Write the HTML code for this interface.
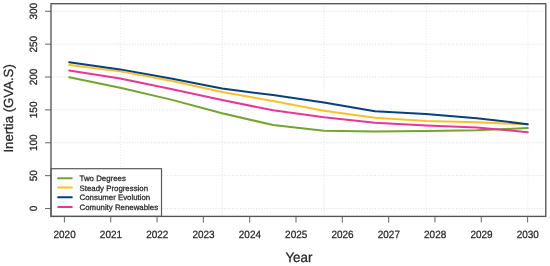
<!DOCTYPE html><html><head><meta charset="utf-8"><style>html,body{margin:0;padding:0;background:#fff;}svg{display:block;}text{font-family:"Liberation Sans",Arial,sans-serif;fill:#262626;stroke:#262626;stroke-width:0.25;text-rendering:geometricPrecision;}</style></head><body>
<svg width="550" height="266" viewBox="0 0 550 266">
<rect width="550" height="266" fill="#fff"/>
<g stroke="#dcdcdc" stroke-width="1" stroke-dasharray="1 1.7"><line x1="51.0" y1="208.50" x2="545.8" y2="208.50"/><line x1="51.0" y1="175.63" x2="545.8" y2="175.63"/><line x1="51.0" y1="142.76" x2="545.8" y2="142.76"/><line x1="51.0" y1="109.89" x2="545.8" y2="109.89"/><line x1="51.0" y1="77.02" x2="545.8" y2="77.02"/><line x1="51.0" y1="44.15" x2="545.8" y2="44.15"/><line x1="51.0" y1="11.28" x2="545.8" y2="11.28"/></g>
<g stroke="#e4e4e4" stroke-width="1" stroke-dasharray="1 1.7"><line x1="120.35" y1="3.7" x2="120.35" y2="216.4"/><line x1="222.25" y1="3.7" x2="222.25" y2="216.4"/><line x1="324.15" y1="3.7" x2="324.15" y2="216.4"/><line x1="426.05" y1="3.7" x2="426.05" y2="216.4"/><line x1="527.95" y1="3.7" x2="527.95" y2="216.4"/></g>
<polyline points="69.20,77.15 120.15,87.74 171.10,99.63 222.05,113.18 273.00,125.08 323.95,130.66 374.90,131.39 425.85,131.12 476.80,130.20 527.75,128.10" fill="none" stroke="#72a52e" stroke-width="2" stroke-linejoin="round" stroke-linecap="round"/>
<polyline points="69.20,65.06 120.15,71.37 171.10,80.77 222.05,92.01 273.00,101.02 323.95,110.68 374.90,117.65 425.85,121.00 476.80,122.18 527.75,124.48" fill="none" stroke="#fec125" stroke-width="2" stroke-linejoin="round" stroke-linecap="round"/>
<polyline points="69.20,62.29 120.15,69.39 171.10,78.40 222.05,88.52 273.00,95.10 323.95,102.59 374.90,111.34 425.85,113.97 476.80,118.17 527.75,124.22" fill="none" stroke="#083f7e" stroke-width="2" stroke-linejoin="round" stroke-linecap="round"/>
<polyline points="69.20,70.58 120.15,78.60 171.10,88.98 222.05,99.90 273.00,110.35 323.95,117.19 374.90,122.71 425.85,125.60 476.80,127.38 527.75,132.18" fill="none" stroke="#e8359a" stroke-width="2" stroke-linejoin="round" stroke-linecap="round"/>
<g stroke="#6a6a6a" stroke-width="1.05"><line x1="45" y1="208.50" x2="51.0" y2="208.50"/><line x1="45" y1="175.63" x2="51.0" y2="175.63"/><line x1="45" y1="142.76" x2="51.0" y2="142.76"/><line x1="45" y1="109.89" x2="51.0" y2="109.89"/><line x1="45" y1="77.02" x2="51.0" y2="77.02"/><line x1="45" y1="44.15" x2="51.0" y2="44.15"/><line x1="45" y1="11.28" x2="51.0" y2="11.28"/><line x1="64.40" y1="216.4" x2="64.40" y2="222.5"/><line x1="110.72" y1="216.4" x2="110.72" y2="222.5"/><line x1="157.04" y1="216.4" x2="157.04" y2="222.5"/><line x1="203.36" y1="216.4" x2="203.36" y2="222.5"/><line x1="249.68" y1="216.4" x2="249.68" y2="222.5"/><line x1="296.00" y1="216.4" x2="296.00" y2="222.5"/><line x1="342.32" y1="216.4" x2="342.32" y2="222.5"/><line x1="388.64" y1="216.4" x2="388.64" y2="222.5"/><line x1="434.96" y1="216.4" x2="434.96" y2="222.5"/><line x1="481.28" y1="216.4" x2="481.28" y2="222.5"/><line x1="527.60" y1="216.4" x2="527.60" y2="222.5"/></g>
<rect x="51.0" y="168.7" width="110.50" height="47.70" fill="#fff" stroke="#5a5a5a" stroke-width="1.2"/>
<line x1="58.1" y1="178.2" x2="71.8" y2="178.2" stroke="#72a52e" stroke-width="2" stroke-linecap="round"/>
<text x="79.6" y="181.10" font-size="7.85">Two Degrees</text>
<line x1="58.1" y1="187.6" x2="71.8" y2="187.6" stroke="#fec125" stroke-width="2" stroke-linecap="round"/>
<text x="79.6" y="190.50" font-size="7.85">Steady Progression</text>
<line x1="58.1" y1="197.3" x2="71.8" y2="197.3" stroke="#083f7e" stroke-width="2" stroke-linecap="round"/>
<text x="79.6" y="200.20" font-size="7.85">Consumer Evolution</text>
<line x1="58.1" y1="206.9" x2="71.8" y2="206.9" stroke="#e8359a" stroke-width="2" stroke-linecap="round"/>
<text x="79.6" y="209.80" font-size="7.85">Comunity Renewables</text>
<rect x="51.0" y="3.7" width="494.80" height="212.70" fill="none" stroke="#555" stroke-width="1.35"/>
<text transform="translate(36.5 208.50) rotate(-90) scale(0.95 1)" text-anchor="middle" font-size="10.5">0</text>
<text transform="translate(36.5 175.63) rotate(-90) scale(0.95 1)" text-anchor="middle" font-size="10.5">50</text>
<text transform="translate(36.5 142.76) rotate(-90) scale(0.95 1)" text-anchor="middle" font-size="10.5">100</text>
<text transform="translate(36.5 109.89) rotate(-90) scale(0.95 1)" text-anchor="middle" font-size="10.5">150</text>
<text transform="translate(36.5 77.02) rotate(-90) scale(0.95 1)" text-anchor="middle" font-size="10.5">200</text>
<text transform="translate(36.5 44.15) rotate(-90) scale(0.95 1)" text-anchor="middle" font-size="10.5">250</text>
<text transform="translate(36.5 11.28) rotate(-90) scale(0.95 1)" text-anchor="middle" font-size="10.5">300</text>
<text transform="translate(64.60 237.9) scale(0.95 1)" text-anchor="middle" font-size="10.5">2020</text>
<text transform="translate(110.92 237.9) scale(0.95 1)" text-anchor="middle" font-size="10.5">2021</text>
<text transform="translate(157.24 237.9) scale(0.95 1)" text-anchor="middle" font-size="10.5">2022</text>
<text transform="translate(203.56 237.9) scale(0.95 1)" text-anchor="middle" font-size="10.5">2023</text>
<text transform="translate(249.88 237.9) scale(0.95 1)" text-anchor="middle" font-size="10.5">2024</text>
<text transform="translate(296.20 237.9) scale(0.95 1)" text-anchor="middle" font-size="10.5">2025</text>
<text transform="translate(342.52 237.9) scale(0.95 1)" text-anchor="middle" font-size="10.5">2026</text>
<text transform="translate(388.84 237.9) scale(0.95 1)" text-anchor="middle" font-size="10.5">2027</text>
<text transform="translate(435.16 237.9) scale(0.95 1)" text-anchor="middle" font-size="10.5">2028</text>
<text transform="translate(481.48 237.9) scale(0.95 1)" text-anchor="middle" font-size="10.5">2029</text>
<text transform="translate(527.80 237.9) scale(0.95 1)" text-anchor="middle" font-size="10.5">2030</text>
<text transform="translate(298.9 261.9) scale(0.97 1)" text-anchor="middle" font-size="13.8">Year</text>
<text transform="translate(12.6 108.4) rotate(-90)" text-anchor="middle" font-size="13.2">Inertia (GVA.S)</text>
</svg></body></html>
